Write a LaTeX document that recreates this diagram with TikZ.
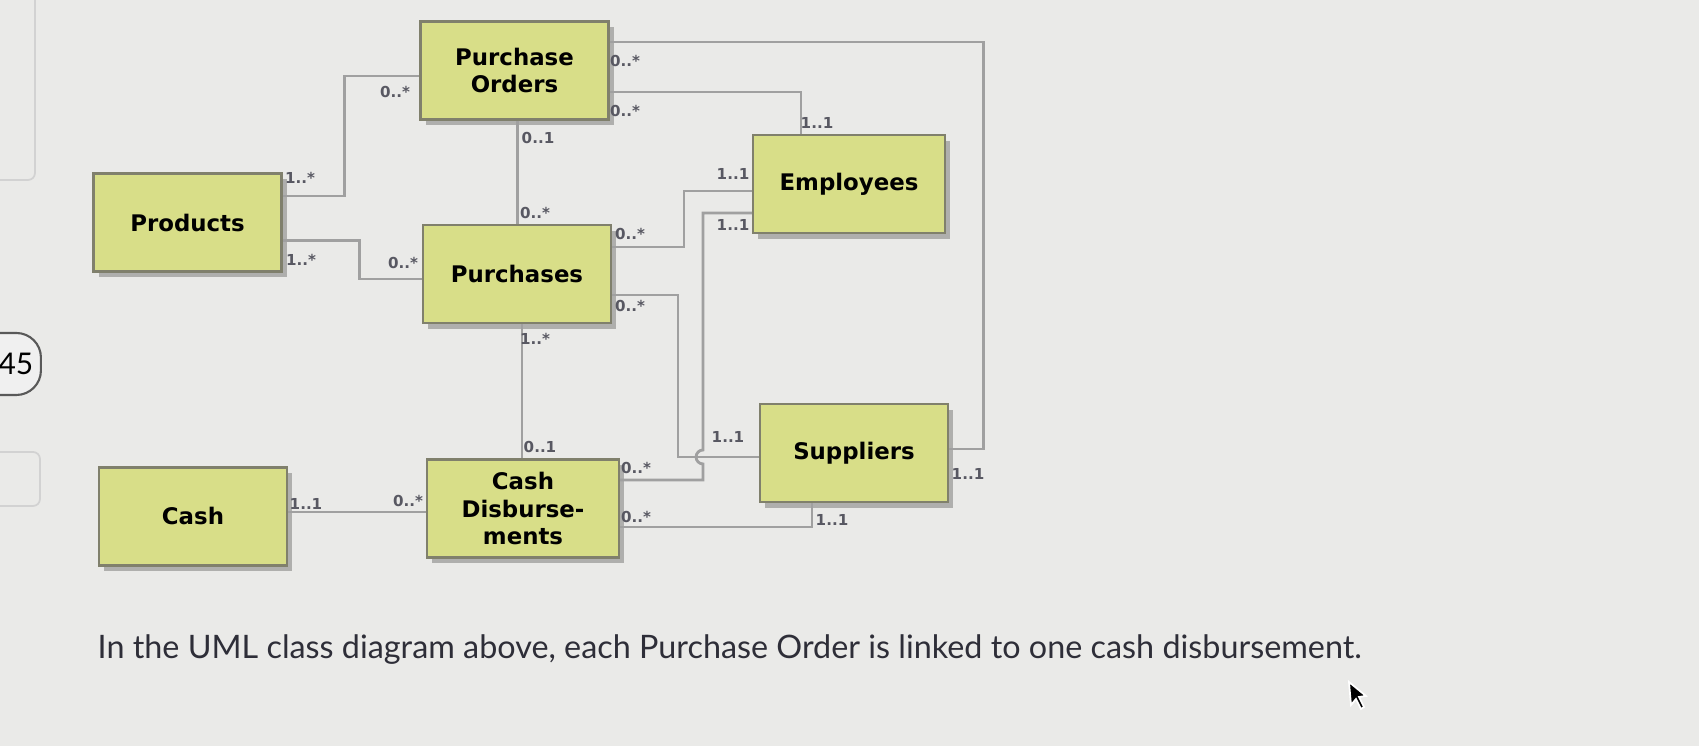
\documentclass[tikz,border=0pt]{standalone}
\usepackage{fontspec}
\usepackage{tikz}
\usetikzlibrary{shadows}
\newfontfamily\boxfont{DejaVu Sans}[BoldFont={DejaVu Sans Bold}]
\newfontfamily\questionfont{Lato}
\definecolor{screen}{RGB}{234,234,232}
\definecolor{classfill}{RGB}{216,222,136}
\definecolor{classedge}{RGB}{128,128,108}
\definecolor{linkgray}{RGB}{160,160,160}
\definecolor{multgray}{RGB}{88,88,98}
\definecolor{questiongray}{RGB}{46,46,56}

\begin{document}
\begin{tikzpicture}[
    classbox/.style={draw=classedge, line width=0.6pt, fill=classfill,
        minimum width=1.88cm, minimum height=0.98cm, align=center, inner sep=1pt,
        font=\boxfont\bfseries\fontsize{6.5}{7.8}\selectfont,
        drop shadow={shadow xshift=0.5mm, shadow yshift=-0.6mm, fill=black, opacity=0.25}},
    link/.style={draw=linkgray, line width=0.8pt},
    mult/.style={text=multgray, inner sep=0pt, font=\boxfont\bfseries\fontsize{4.3}{5}\selectfont}]
    \useasboundingbox[fill=screen] (0,0) rectangle (16.99,-7.46);
    % screen frame at the left
    \draw[gray!35, line width=0.5pt, rounded corners=2pt] (-0.2,0.2) rectangle (0.35,-1.80);
    \draw[gray!35, line width=0.5pt, rounded corners=2pt] (-0.2,-4.52) rectangle (0.40,-5.06);
    \node[draw=gray!70!black, fill=gray!12, rounded corners=7pt, line width=0.6pt,
        minimum width=0.9cm, minimum height=0.62cm, inner sep=0pt, anchor=east,
        font=\questionfont\fontsize{8.5}{10}\selectfont] (clock) at (0.42,-3.64) {\hspace*{0.4cm}45};
    % classes
    \node[classbox] (po) at (5.145,-0.705) {Purchase\\Orders};
    \node[classbox] (prod) at (1.875,-2.225) {Products};
    \node[classbox] (purch) at (5.17,-2.74) {Purchases};
    \node[classbox, minimum width=1.92cm] (emp) at (8.49,-1.84) {Employees};
    \node[classbox] (sup) at (8.54,-4.53) {Suppliers};
    \node[classbox] (cash) at (1.93,-5.165) {Cash};
    \node[classbox, minimum width=1.92cm] (cd) at (5.23,-5.085) {Cash\\Disburse-\\ments};
    % associations
    \draw[link] ([yshift=2.65mm]prod.east) -- ++(0.62,0) |- ([yshift=-0.55mm]po.west);
    \draw[link] ([yshift=-1.8mm]prod.east) -- ++(0.77,0) |- ([yshift=-0.5mm]purch.west);
    \draw[link] ([xshift=0.3mm]po.south) -- ([xshift=0.3mm]po.south |- purch.north);
    \draw[link] ([yshift=2.85mm]po.east) -- ++(3.74,0) |- ([yshift=0.4mm]sup.east);
    \draw[link] ([yshift=-2.15mm]po.east) -| ([xshift=-4.8mm]emp.north);
    \draw[link] ([yshift=2.7mm]purch.east) -- ++(0.72,0) |- ([yshift=-0.7mm]emp.west);
    \draw[link] ([yshift=-2.1mm]purch.east) -- ++(0.66,0) |- ([yshift=-0.4mm]sup.west);
    \draw[link] ([yshift=2.85mm]cd.east) -- ++(0.83,0) -- ++(0,0.16)
        arc[start angle=270, end angle=90, radius=0.07] |- ([yshift=-2.9mm]emp.west);
    \draw[link] ([yshift=-1.85mm]cd.east) -| ([xshift=-4.2mm]sup.south);
    \draw[link] ([xshift=0.5mm]purch.south) -- ([xshift=0.5mm]purch.south |- cd.north);
    \draw[link] ([yshift=0.45mm]cash.east) -- ([yshift=0.45mm]cash.east -| cd.west);
    % multiplicities
    \foreach \pos/\txt [count=\i] in {
        {(3.00,-1.78)}/1..*, {(3.95,-0.92)}/0..*, {(3.01,-2.60)}/1..*, {(4.03,-2.63)}/0..*,
        {(5.38,-1.38)}/0..1, {(5.35,-2.13)}/0..*, {(6.25,-0.61)}/0..*, {(6.25,-1.11)}/0..*,
        {(8.17,-1.23)}/1..1, {(7.33,-1.74)}/1..1, {(6.30,-2.34)}/0..*, {(7.33,-2.25)}/1..1,
        {(6.30,-3.06)}/0..*, {(7.28,-4.37)}/1..1, {(5.35,-3.39)}/1..*, {(5.40,-4.47)}/0..1,
        {(6.36,-4.68)}/0..*, {(6.36,-5.17)}/0..*, {(8.32,-5.20)}/1..1, {(9.68,-4.74)}/1..1,
        {(3.06,-5.04)}/1..1, {(4.08,-5.01)}/0..*}
        \node[mult] (m\i) at \pos {\txt};
    % question text
    \node[anchor=base west, inner sep=0pt, text=questiongray,
        font=\questionfont\fontsize{9.2}{11}\selectfont] (question) at (0.97,-6.59)
        {In the UML class diagram above, each Purchase Order is linked to one cash disbursement.};
    % mouse pointer
    \filldraw[fill=black, draw=white, line width=0.5pt] (13.49,-6.82) -- (13.51,-7.05) -- (13.56,-6.99)
        -- (13.61,-7.09) -- (13.64,-7.07) -- (13.59,-6.97) -- (13.66,-6.96) -- cycle;
\end{tikzpicture}
\end{document}
